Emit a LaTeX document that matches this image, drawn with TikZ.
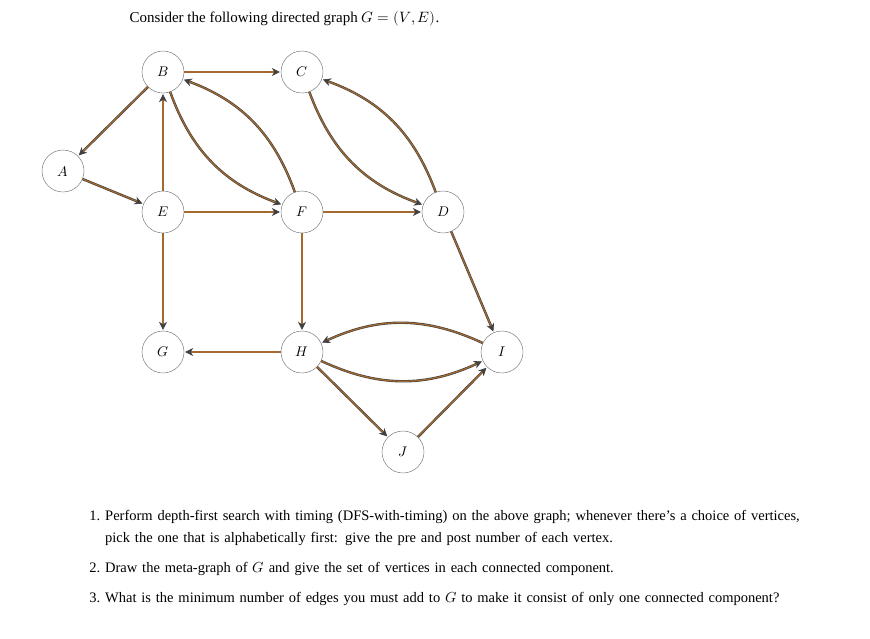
\documentclass[tikz,border=0pt]{standalone}
\usetikzlibrary{arrows.meta}
\usepackage{fontspec}
\setmainfont{Liberation Serif}
\usepackage{unicode-math}
\setmathfont{Latin Modern Math}
\begin{document}
\begin{tikzpicture}[x=1pt,y=-1pt,
  vtx/.style={circle,draw=black!60,fill=white,minimum size=42pt,inner sep=0pt,font=\fontsize{14}{14}\selectfont},
  edge/.style={draw=black!75,double=brown!80!black!90!orange,line width=0.6pt,double distance=1.2pt,-{Stealth[length=8pt,width=8pt]},shorten >=1pt}]
\useasboundingbox (0,0) rectangle (870,638);
\node[anchor=west,font=\fontsize{15}{18}\selectfont] (title) at (126,19) {Consider the following directed graph $G=(V,E)$.};
\node[vtx] (A) at (63,171) {$A$};
\node[vtx] (B) at (163,72) {$B$};
\node[vtx] (C) at (302,72) {$C$};
\node[vtx] (E) at (163,212) {$E$};
\node[vtx] (F) at (302,212) {$F$};
\node[vtx] (D) at (443,212) {$D$};
\node[vtx] (G) at (163,352) {$G$};
\node[vtx] (H) at (302,352) {$H$};
\node[vtx] (I) at (502,352) {$I$};
\node[vtx] (J) at (403,452) {$J$};
\draw[edge] (B) -- (A);
\draw[edge] (A) -- (E);
\draw[edge] (E) -- (B);
\draw[edge] (B) -- (C);
\draw[edge] (B) to[bend right=25] (F);
\draw[edge] (F) to[bend right=25] (B);
\draw[edge] (E) -- (F);
\draw[edge] (F) -- (D);
\draw[edge] (C) to[bend right=25] (D);
\draw[edge] (D) to[bend right=25] (C);
\draw[edge] (D) -- (I);
\draw[edge] (E) -- (G);
\draw[edge] (F) -- (H);
\draw[edge] (H) -- (G);
\draw[edge] (I) to[bend right=25] (H);
\draw[edge] (H) to[bend right=25] (I);
\draw[edge] (H) -- (J);
\draw[edge] (J) -- (I);
\node[anchor=north west,inner sep=0pt,text width=733pt,font=\fontsize{14.5}{22}\selectfont] (list) at (80,490) {%
\begin{enumerate}\setlength{\itemsep}{4pt}\setlength{\leftmargin}{20pt}
\item Perform depth-first search with timing (DFS-with-timing) on the above graph; whenever there's a choice of vertices, pick the one that is alphabetically first: give the pre and post number of each vertex.
\item Draw the meta-graph of $G$ and give the set of vertices in each connected component.
\item What is the minimum number of edges you must add to $G$ to make it consist of only one connected component?
\end{enumerate}};
\end{tikzpicture}
\end{document}
